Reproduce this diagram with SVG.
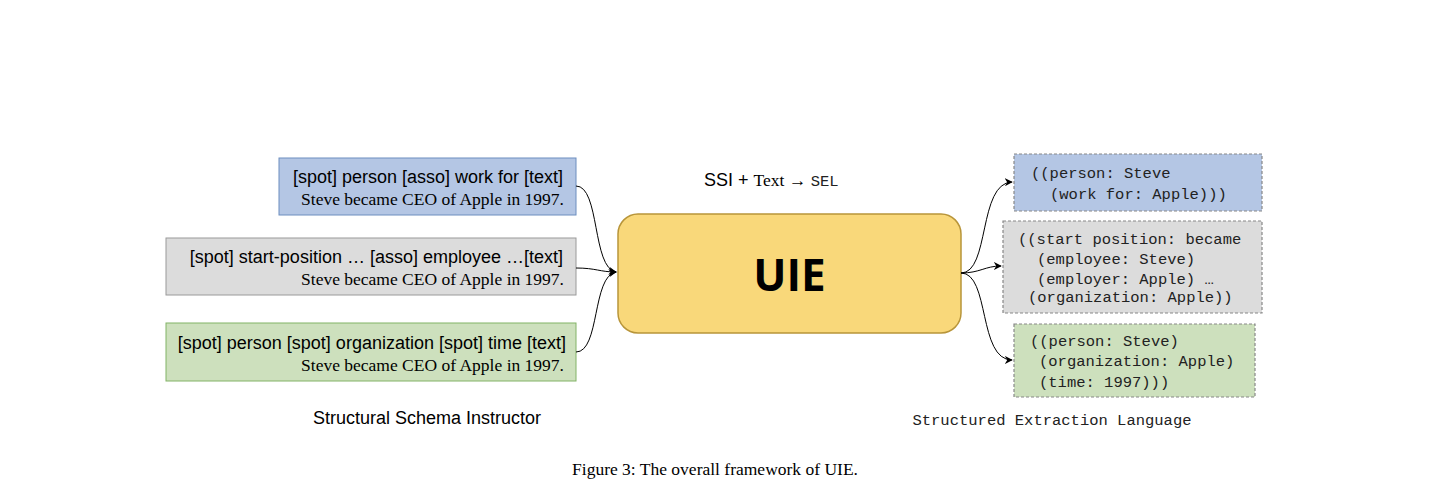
<svg xmlns="http://www.w3.org/2000/svg" width="1440" height="491" viewBox="0 0 1440 491">
<style>
.s{font-family:"Liberation Sans",Arial,sans-serif;font-size:18px;fill:#000}
.r{font-family:"Liberation Serif","Times New Roman",serif;font-size:17.5px;fill:#000}
.m{font-family:"Liberation Mono","Courier New",monospace;font-size:15.5px;fill:#222}
.c{fill:none;stroke:#000;stroke-width:1}
.d{stroke:#888;stroke-width:1.2;stroke-dasharray:3,2}
</style>
<defs><marker id="a" viewBox="0 0 10 10" refX="9" refY="5" markerWidth="8" markerHeight="8" orient="auto"><path d="M0,0L10,5L0,10L3,5z" fill="#000"/></marker></defs>
<rect width="1440" height="491" fill="#fff"/>
<g id="in1"><rect x="279" y="158" width="297" height="57" fill="#b4c6e4" stroke="#6c8ebf"/><text class="s" x="563" y="183" text-anchor="end">[spot] person [asso] work for [text]</text><text class="r" x="564" y="205" text-anchor="end">Steve became CEO of Apple in 1997.</text></g>
<g id="in2"><rect x="166" y="238" width="410" height="57" fill="#dcdcdc" stroke="#9a9a9a"/><text class="s" x="563" y="263" text-anchor="end">[spot] start-position … [asso] employee …[text]</text><text class="r" x="564" y="285" text-anchor="end">Steve became CEO of Apple in 1997.</text></g>
<g id="in3"><rect x="166" y="323" width="410" height="58" fill="#cde0bd" stroke="#82b366"/><text class="s" x="566" y="349" text-anchor="end">[spot] person [spot] organization [spot] time [text]</text><text class="r" x="564" y="371" text-anchor="end">Steve became CEO of Apple in 1997.</text></g>
<g id="uie"><rect x="618" y="214" width="343" height="119" rx="20" fill="#f9d87a" stroke="#b8953a" stroke-width="1.5"/><text x="789.5" y="291" text-anchor="middle" font-family="'Open Sans','DejaVu Sans',sans-serif" font-weight="bold" font-size="44">UIE</text></g>
<g id="title"><text x="704" y="186"><tspan class="s" font-size="20">SSI + </tspan><tspan class="r" font-size="20">Text → </tspan><tspan class="m" font-size="18">SEL</tspan></text></g>
<g id="out1"><rect x="1014" y="154" width="248" height="57" fill="#b4c6e4" class="d"/><text class="m" x="1031" y="178">((person: Steve</text><text class="m" x="1050" y="199">(work for: Apple)))</text></g>
<g id="out2"><rect x="1003" y="221" width="259" height="92" fill="#dcdcdc" class="d"/><text class="m" x="1018" y="244">((start position: became</text><text class="m" x="1037" y="264">(employee: Steve)</text><text class="m" x="1037" y="284">(employer: Apple) …</text><text class="m" x="1028" y="302">(organization: Apple))</text></g>
<g id="out3"><rect x="1014" y="324" width="241" height="73" fill="#cde0bd" class="d"/><text class="m" x="1030" y="346">((person: Steve)</text><text class="m" x="1039" y="366">(organization: Apple)</text><text class="m" x="1039" y="387">(time: 1997)))</text></g>
<g id="connectors">
<path class="c" d="M576,186C600,186 592,268 616,272" marker-end="url(#a)"/>
<path class="c" d="M576,268C596,268 600,272 616,272" marker-end="url(#a)"/>
<path class="c" d="M576,352C600,352 592,276 616,272" marker-end="url(#a)"/>
<path class="c" d="M961,273C990,273 978,183 1012,182" marker-end="url(#a)"/>
<path class="c" d="M961,273C980,273 985,266 1001,266" marker-end="url(#a)"/>
<path class="c" d="M961,273C990,273 978,360 1012,360" marker-end="url(#a)"/>
</g>
<text class="s" x="427" y="424" text-anchor="middle" font-size="20">Structural Schema Instructor</text>
<text class="m" x="1052" y="425" text-anchor="middle" font-size="20">Structured Extraction Language</text>
<text class="r" x="715" y="475" text-anchor="middle" font-size="22" fill="#000">Figure 3: The overall framework of UIE.</text>
</svg>
